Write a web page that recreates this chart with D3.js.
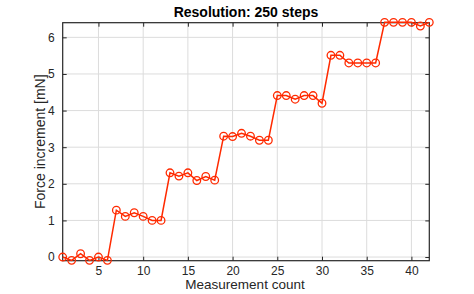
<!DOCTYPE html>
<html><head><meta charset="utf-8">
<script src="https://cdn.jsdelivr.net/npm/d3@7"></script>
<style>body{margin:0;background:#fff}svg{display:block}text{font-family:"Liberation Sans",Arial,sans-serif}</style>
</head><body><svg id="c" width="474" height="294"></svg>
<script>
const counts = d3.range(1, 43);
const force = [0, -0.09, 0.09, -0.09, 0, -0.09,
  1.28, 1.11, 1.21, 1.11, 1.0, 1.0,
  2.3, 2.21, 2.3, 2.09, 2.2, 2.1,
  3.3, 3.29, 3.38, 3.3, 3.19, 3.19,
  4.41, 4.41, 4.31, 4.41, 4.41, 4.2,
  5.51, 5.51, 5.3, 5.3, 5.3, 5.3,
  6.41, 6.41, 6.41, 6.41, 6.31, 6.41];
const xTicks = [5, 10, 15, 20, 25, 30, 35, 40];
const yTicks = [0, 1, 2, 3, 4, 5, 6];
const title = "Resolution: 250 steps";
const xLabel = "Measurement count";
const yLabel = "Force increment [mN]";

const L = 62.7, R = 429.3, T = 22.7, B = 260.7;
const x = d3.scaleLinear().domain([1, 42]).range([L, R]);
const y = d3.scaleLinear().domain([-0.1, 6.4]).range([B, T]);
const svg = d3.select("#c");
const axisCol = "#262626", gridCol = "#dcdcdc", red = "#ff2a00";
const ff = '"Liberation Sans",Arial,sans-serif';

// grid
svg.append("g").selectAll("line").data(xTicks).join("line")
  .attr("x1", d => x(d)).attr("x2", d => x(d)).attr("y1", T).attr("y2", B)
  .attr("stroke", gridCol).attr("stroke-width", 1);
svg.append("g").selectAll("line").data(yTicks).join("line")
  .attr("y1", d => y(d)).attr("y2", d => y(d)).attr("x1", L).attr("x2", R)
  .attr("stroke", gridCol).attr("stroke-width", 1);

// axes
const tl = 4;
svg.append("g").attr("transform", `translate(0,${B})`)
  .call(d3.axisBottom(x).tickValues(xTicks).tickSizeInner(-tl).tickSizeOuter(0).tickPadding(6).tickFormat(d3.format("d")))
  .call(g => { g.select(".domain").remove(); g.selectAll("line").attr("stroke", axisCol);
    g.selectAll("text").attr("font-size", 12).attr("fill", axisCol).attr("font-family", ff); });
svg.append("g").attr("transform", `translate(0,${T})`)
  .call(d3.axisTop(x).tickValues(xTicks).tickSizeInner(-tl).tickSizeOuter(0).tickFormat(""))
  .call(g => { g.select(".domain").remove(); g.selectAll("line").attr("stroke", axisCol); });
svg.append("g").attr("transform", `translate(${L},0)`)
  .call(d3.axisLeft(y).tickValues(yTicks).tickSizeInner(-tl).tickSizeOuter(0).tickPadding(8).tickFormat(d3.format("d")))
  .call(g => { g.select(".domain").remove(); g.selectAll("line").attr("stroke", axisCol);
    g.selectAll("text").attr("font-size", 12).attr("fill", axisCol).attr("font-family", ff); });
svg.append("g").attr("transform", `translate(${R},0)`)
  .call(d3.axisRight(y).tickValues(yTicks).tickSizeInner(-tl).tickSizeOuter(0).tickFormat(""))
  .call(g => { g.select(".domain").remove(); g.selectAll("line").attr("stroke", axisCol); });
svg.append("rect").attr("x", L).attr("y", T).attr("width", R - L).attr("height", B - T)
  .attr("fill", "none").attr("stroke", axisCol).attr("stroke-width", 1.2);

// data
const pts = counts.map((c, i) => [c, force[i]]);
svg.append("path").datum(pts)
  .attr("d", d3.line().x(d => x(d[0])).y(d => y(d[1])))
  .attr("fill", "none").attr("stroke", red).attr("stroke-width", 1.5);
svg.append("g").selectAll("circle").data(pts).join("circle")
  .attr("cx", d => x(d[0])).attr("cy", d => y(d[1])).attr("r", 3.8)
  .attr("fill", "none").attr("stroke", red).attr("stroke-width", 1.3);

// labels
svg.append("text").attr("x", 246).attr("y", 17).attr("text-anchor", "middle")
  .attr("font-size", 14).attr("font-weight", "bold").attr("fill", "#000").text(title);
svg.append("text").attr("x", 245).attr("y", 289).attr("text-anchor", "middle")
  .attr("font-size", 13.5).attr("fill", axisCol).text(xLabel);
svg.append("text").attr("transform", `translate(45,${(T + B) / 2}) rotate(-90)`)
  .attr("text-anchor", "middle").attr("font-size", 14).attr("fill", axisCol).text(yLabel);
</script></body></html>
